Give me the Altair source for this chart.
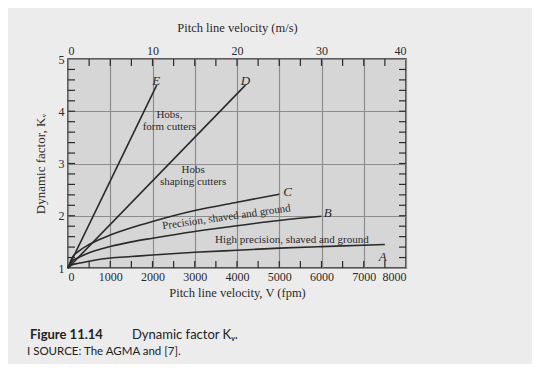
import altair as alt
import pandas as pd

# ---- data ----
fpm_A = [0, 100, 250, 500, 1000, 1500, 2000, 3000, 4000, 5000, 6000, 7500]
kv_A = [1.0, 1.06, 1.09, 1.13, 1.19, 1.22, 1.25, 1.30, 1.34, 1.38, 1.41, 1.45]
fpm_B = [0, 100, 250, 500, 1000, 1500, 2000, 3000, 4000, 5000, 6000]
kv_B = [1.0, 1.13, 1.20, 1.29, 1.41, 1.50, 1.57, 1.70, 1.81, 1.91, 1.99]
fpm_C = [0, 100, 250, 500, 1000, 1500, 2000, 3000, 4000, 5000]
kv_C = [1.0, 1.20, 1.32, 1.45, 1.63, 1.77, 1.89, 2.10, 2.26, 2.41]
fpm_D = [0, 4200]
kv_D = [1.0, 4.5]
fpm_E = [0, 2100]
kv_E = [1.0, 4.5]

x_ticks_fpm = [0, 1000, 2000, 3000, 4000, 5000, 6000, 7000, 8000]
x_minor_fpm = [500 * i for i in range(1, 16)]
top_ticks_ms = [0, 10, 20, 30, 40]
top_minor_ms = [2.5 * i for i in range(1, 16)]
y_ticks = [1, 2, 3, 4, 5]
y_minor = [round(1 + 0.2 * i, 1) for i in range(1, 20)]

letters = ["E", "D", "C", "B", "A"]
letter_x = [2090, 4200, 5200, 6150, 7450]
letter_y = [4.58, 4.58, 2.45, 2.06, 1.22]

note_text = ["Hobs,", "form cutters", "Hobs", "shaping cutters",
             "High precision, shaved and ground"]
note_x = [2400, 2400, 2960, 2960, 5300]
note_y = [3.92, 3.69, 2.88, 2.65, 1.54]

rot_text = ["Precision, shaved and ground"]
rot_x = [3750]
rot_y = [1.97]

W, H = 338, 209
SERIF = "Liberation Serif"
INK = "#2a2a2a"

rows = []
for name, xs, ys_ in [("A", fpm_A, kv_A), ("B", fpm_B, kv_B), ("C", fpm_C, kv_C),
                      ("D", fpm_D, kv_D), ("E", fpm_E, kv_E)]:
    for a, b in zip(xs, ys_):
        rows.append({"curve": name, "fpm": a, "kv": b})
curves = pd.DataFrame(rows)

xs_fpm = alt.Scale(domain=[0, 8000], nice=False, zero=False)
ys = alt.Scale(domain=[1, 5], nice=False, zero=False)

y_axis = alt.Axis(values=y_ticks, grid=True, gridColor="#8c8c8c", gridWidth=1.2,
                  tickSize=0, domain=False, labelFont=SERIF, labelFontSize=12,
                  labelColor=INK, labelPadding=4,
                  title="Dynamic factor, Kᵥ", titleFont=SERIF, titleFontSize=13,
                  titleFontWeight="normal", titleColor=INK, titlePadding=11)


def Y():
    return alt.Y("kv:Q", scale=ys, axis=y_axis)


main = alt.Chart(curves).mark_line(color=INK, strokeWidth=1.6, interpolate="monotone").encode(
    x=alt.X("fpm:Q", scale=xs_fpm,
            axis=alt.Axis(values=x_ticks_fpm, format="d", grid=True, gridColor="#8c8c8c",
                          gridWidth=1.2, tickSize=0, domain=False, labelFont=SERIF,
                          labelFontSize=12, labelColor=INK, labelPadding=3,
                          title="Pitch line velocity, V (fpm)", titleFont=SERIF,
                          titleFontSize=12.5, titleFontWeight="normal", titleColor=INK,
                          titlePadding=4)),
    y=Y(),
    detail="curve:N",
)

top = alt.Chart(pd.DataFrame({"ms": top_ticks_ms, "kv": [1] * 5})).mark_point(opacity=0).encode(
    x=alt.X("ms:Q", scale=alt.Scale(domain=[0, 40], nice=False),
            axis=alt.Axis(orient="top", values=top_ticks_ms, grid=False, tickSize=0,
                          domain=False, labelFont=SERIF, labelFontSize=12, labelColor=INK,
                          labelPadding=2, title="Pitch line velocity (m/s)", titleFont=SERIF,
                          titleFontSize=12.5, titleFontWeight="normal", titleColor=INK,
                          titlePadding=10)),
    y=Y(),
)

ms_scale = alt.Scale(domain=[0, 40], nice=False)
tick_top = alt.Chart(pd.DataFrame({"ms": top_minor_ms})).mark_rule(color=INK, strokeWidth=1.2).encode(
    x=alt.X("ms:Q", scale=ms_scale, axis=None), y=alt.value(0), y2=alt.value(7))
tick_bot = alt.Chart(pd.DataFrame({"fpm": x_minor_fpm})).mark_rule(color=INK, strokeWidth=1.2).encode(
    x=alt.X("fpm:Q", scale=xs_fpm, axis=None), y=alt.value(H), y2=alt.value(H - 7))
tick_left = alt.Chart(pd.DataFrame({"kv": y_minor})).mark_rule(color=INK, strokeWidth=1.2).encode(
    y=Y(), x=alt.value(0), x2=alt.value(7))
tick_right = alt.Chart(pd.DataFrame({"kv": y_minor})).mark_rule(color=INK, strokeWidth=1.2).encode(
    y=Y(), x=alt.value(W), x2=alt.value(W - 7))

lab_letters = alt.Chart(pd.DataFrame({"t": letters, "fpm": letter_x, "kv": letter_y})).mark_text(
    font=SERIF, fontSize=13, fontStyle="italic", color=INK, align="center", baseline="middle"
).encode(x=alt.X("fpm:Q", scale=xs_fpm, axis=None), y=Y(), text="t:N")

lab_notes = alt.Chart(pd.DataFrame({"t": note_text, "fpm": note_x, "kv": note_y})).mark_text(
    font=SERIF, fontSize=11, color=INK, align="center", baseline="middle"
).encode(x=alt.X("fpm:Q", scale=xs_fpm, axis=None), y=Y(), text="t:N")

lab_rot = alt.Chart(pd.DataFrame({"t": rot_text, "fpm": rot_x, "kv": rot_y})).mark_text(
    font=SERIF, fontSize=11, color=INK, align="center", baseline="middle", angle=352
).encode(x=alt.X("fpm:Q", scale=xs_fpm, axis=None), y=Y(), text="t:N")

cap1 = alt.Chart(pd.DataFrame({"t": ["Figure 11.14"]})).mark_text(
    font="Lato", fontSize=13, fontWeight="bold", color="#222", align="left",
    baseline="middle").encode(x=alt.value(-38), y=alt.value(276), text="t:N")
cap2 = alt.Chart(pd.DataFrame({"t": ["Dynamic factor Kᵥ."]})).mark_text(
    font="Lato", fontSize=13, color="#222", align="left", baseline="middle").encode(
    x=alt.value(64), y=alt.value(276), text="t:N")
cap3 = alt.Chart(pd.DataFrame({"t": ["I  SOURCE: The AGMA and [7]."]})).mark_text(
    font="Lato", fontSize=11.5, color="#222", align="left", baseline="middle").encode(
    x=alt.value(-41), y=alt.value(293), text="t:N")

chart = alt.layer(
    main, top, tick_top, tick_bot, tick_left, tick_right,
    lab_letters, lab_notes, lab_rot, cap1, cap2, cap3
).resolve_scale(x="independent").properties(
    width=W, height=H,
    autosize=alt.AutoSizeParams(type="none"),
    padding={"left": 60, "top": 51, "right": 126, "bottom": 96},
    background="#ececec",
).configure_view(fill="#d6d6d6", stroke=INK, strokeWidth=1.5)

chart.save("out.html", embed_options={"renderer": "svg", "actions": False})
